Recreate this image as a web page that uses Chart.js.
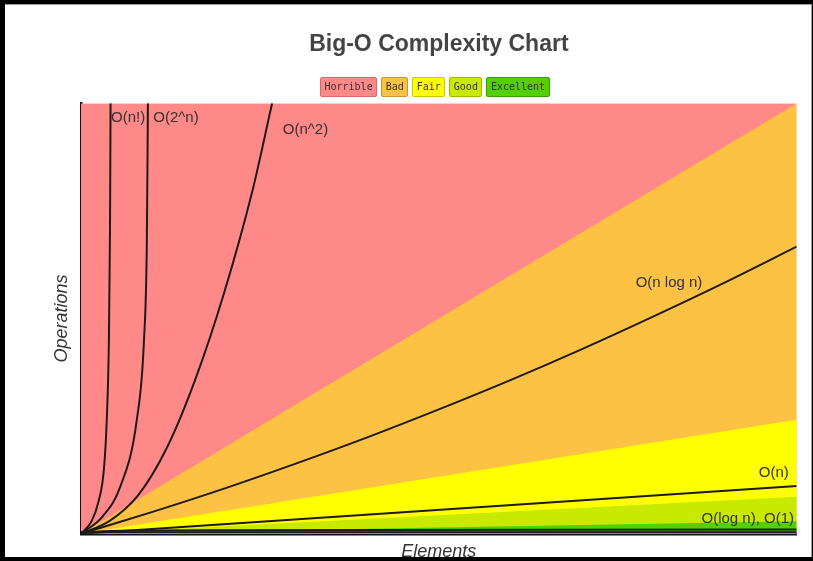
<!DOCTYPE html>
<html>
<head>
<meta charset="utf-8">
<script src="https://cdn.jsdelivr.net/npm/chart.js@4.4.1/dist/chart.umd.min.js"></script>
<style>
  html, body { margin: 0; padding: 0; background: #000; width: 813px; height: 561px; overflow: hidden; }
  #frame {
    position: absolute; left: 5px; top: 4px; width: 807px; height: 553px;
    box-sizing: border-box; background: #fff; overflow: hidden;
    border-top: 1px solid #9a9a9a; border-right: 1px solid #9a9a9a;
  }
  #bigo { position: absolute; left: 0; top: 0; }
  #legend { position: absolute; left: 315px; top: 72px; display: flex; }
  #legend span {
    display: block; height: 18px; padding: 0 3.5px; margin-right: 4px;
    border: 1px solid; border-radius: 2px;
    font: 10px "DejaVu Sans Mono", monospace; line-height: 18px; color: #333;
  }
</style>
</head>
<body>
<div id="frame">
  <canvas id="bigo" width="806" height="562"></canvas>
  <div id="legend"></div>
</div>
<script>
// rating zones (legend + filled areas)
const ratingNames = ['Horrible', 'Bad', 'Fair', 'Good', 'Excellent'];
const ratingColors = ['#ff8888', '#fdc244', '#ffff00', '#c8ea00', '#53d000'];
const ratingBorders = ['#d86a6a', '#c99530', '#caca00', '#9cb800', '#3aa000'];

// upper edge of each zone [elements, operations]
const horribleTop = [[0, 100], [100, 100]];
const badTop = [[0, 0], [100, 100]];
const fairTop = [[0, 0], [100, 26.5]];
const goodTop = [[0, 0], [100, 8.6]];
const excellentTop = [[0, 0], [100, 2.9]];

// complexity curves
const factorialPts = [[0, 0], [1.5, 3], [2.4, 7.2], [3.2, 15], [3.6, 26.5], [3.9, 45], [4.05, 70], [4.13, 100]];
const exponentialPts = [[0, 0], [3, 4], [5.5, 11], [7.8, 26.5], [8.8, 45], [9.2, 68], [9.35, 100]];
const quadraticPts = [[0, 0], [4, 3], [8, 9], [12, 20], [16, 36], [20, 56], [24, 80], [26.7, 100]];
const nlognPts = [[0, 0], [10, 5.1], [20, 10.5], [30, 16.3], [40, 22.4], [50, 28.9], [60, 35.7], [70, 42.9], [80, 50.5], [90, 58.4], [100, 66.7]];
const linearPts = [[0, 0], [100, 11.1]];
const logPts = [[0, 0], [3, 0.6], [20, 0.8], [100, 1.0]];
const constPts = [[0, 0.35], [100, 0.35]];

const curveSeries = [factorialPts, exponentialPts, quadraticPts, nlognPts, linearPts, logPts, constPts];

// curve labels and where they sit (data units)
const curveLabels = ['O(n!)', 'O(2^n)', 'O(n^2)', 'O(n log n)', 'O(n)', 'O(log n), O(1)'];
const labelAnchors = [[4.2, 95.6], [10.1, 95.6], [28.2, 92.8], [77.5, 57.4], [94.7, 13.2], [86.7, 2.6]];

const toXY = pts => pts.map(([x, y]) => ({ x: x, y: y }));

// html legend
const legend = document.getElementById('legend');
ratingNames.forEach((name, i) => {
    const s = document.createElement('span');
    s.textContent = name;
    s.style.background = ratingColors[i];
    s.style.borderColor = ratingBorders[i];
    legend.appendChild(s);
});

const zoneTops = [horribleTop, badTop, fairTop, goodTop, excellentTop];
const datasets = [];

zoneTops.forEach((pts, i) => {
    datasets.push({
        label: ratingNames[i],
        data: toXY(pts),
        backgroundColor: ratingColors[i],
        borderWidth: 0,
        pointRadius: 0,
        fill: 'origin',
        order: 10 - i
    });
});

curveSeries.forEach(pts => {
    datasets.push({
        data: toXY(pts),
        borderColor: '#1e1a1a',
        borderWidth: 2,
        pointRadius: 0,
        fill: false,
        cubicInterpolationMode: 'monotone',
        order: 0
    });
});

const curveLabelPlugin = {
    id: 'curveLabels',
    afterDatasetsDraw(chart) {
        const { ctx, scales: { x, y } } = chart;
        ctx.save();
        ctx.font = '15px "Liberation Sans", Arial, sans-serif';
        ctx.fillStyle = '#333';
        ctx.textAlign = 'left';
        ctx.textBaseline = 'alphabetic';
        curveLabels.forEach((t, i) => {
            ctx.fillText(t, x.getPixelForValue(labelAnchors[i][0]), y.getPixelForValue(labelAnchors[i][1]));
        });
        ctx.restore();
    }
};

const axisTitleFont = { family: '"Liberation Sans", Arial, sans-serif', size: 18, style: 'italic' };

new Chart(document.getElementById('bigo').getContext('2d'), {
    type: 'line',
    data: { datasets: datasets },
    options: {
        responsive: false,
        animation: false,
        layout: { padding: { left: 42, right: 14.3, top: 0, bottom: 0 } },
        plugins: {
            legend: { display: false },
            tooltip: { enabled: false },
            title: {
                display: true,
                text: 'Big-O Complexity Chart',
                fullSize: false,
                color: '#444',
                font: { family: '"Liberation Sans", Arial, sans-serif', size: 23, weight: 'bold' },
                padding: { top: 25.5, bottom: 45.2 }
            }
        },
        scales: {
            x: {
                type: 'linear',
                min: 0,
                max: 100,
                z: 1,
                grid: { display: false, drawTicks: false },
                ticks: { display: false },
                border: { display: true, color: '#111', width: 2.5 },
                title: { display: true, text: 'Elements', color: '#333', font: axisTitleFont, padding: { top: 7.6, bottom: 4 } }
            },
            y: {
                type: 'linear',
                min: 0,
                max: 100,
                z: 1,
                grid: { display: false, drawTicks: false },
                ticks: { display: false },
                border: { display: true, color: '#111', width: 2.5 },
                title: { display: true, text: 'Operations', color: '#333', font: axisTitleFont, padding: { top: 4, bottom: 8.4 } }
            }
        }
    },
    plugins: [curveLabelPlugin]
});
</script>
</body>
</html>
